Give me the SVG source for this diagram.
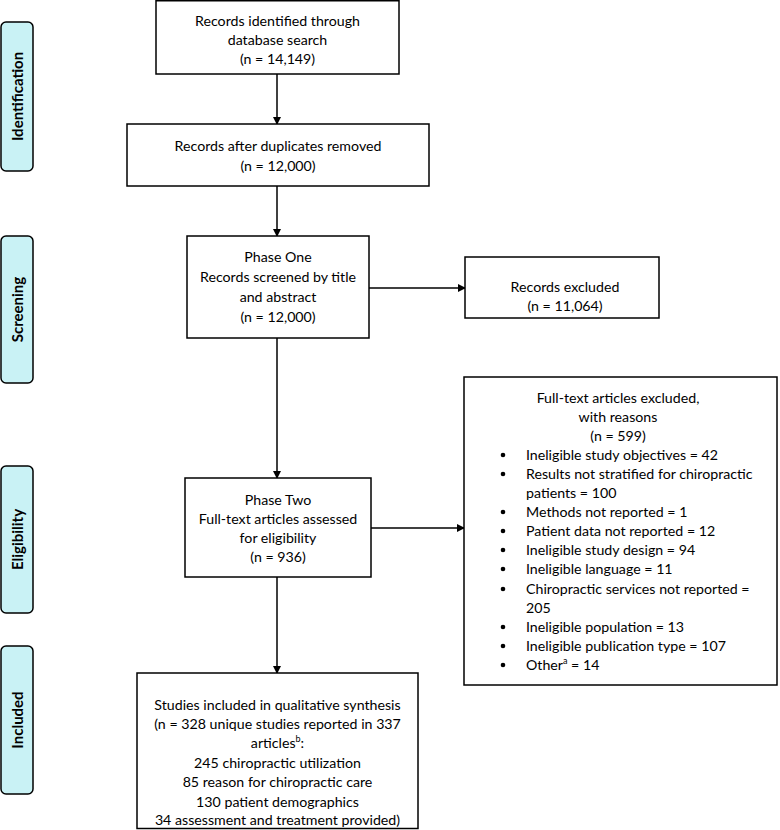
<svg xmlns="http://www.w3.org/2000/svg" width="780" height="830" viewBox="0 0 780 830">
<style>
.box{fill:#fff;stroke:#000;stroke-width:1.5}
.side{fill:#c9f2f5;stroke:#000;stroke-width:1.5}
.t{font-family:Lato,"Liberation Sans",sans-serif;font-size:14.2px;fill:#000;text-anchor:middle}
.l{font-family:Lato,"Liberation Sans",sans-serif;font-size:14.2px;fill:#000}
.s{font-family:Lato,"Liberation Sans",sans-serif;font-size:15px;font-weight:bold;fill:#000;text-anchor:middle}
.c{stroke:#000;stroke-width:1.5;fill:none;marker-end:url(#ah)}
</style>
<defs>
<marker id="ah" markerWidth="8" markerHeight="8" refX="7" refY="4" orient="auto" markerUnits="userSpaceOnUse">
<path d="M0,0 L8,4 L0,8 Z" fill="#000"/>
</marker>
</defs>
<rect width="780" height="830" fill="#fff"/>

<g id="phase-identification">
<rect class="side" x="1" y="22" width="32" height="149" rx="5"/>
<text class="s" transform="translate(22.5,96.5) rotate(-90)">Identification</text>
</g>
<g id="phase-screening">
<rect class="side" x="1" y="236" width="32" height="147" rx="5"/>
<text class="s" transform="translate(22.5,309.5) rotate(-90)">Screening</text>
</g>
<g id="phase-eligibility">
<rect class="side" x="1" y="466" width="32" height="147" rx="5"/>
<text class="s" transform="translate(22.5,539.5) rotate(-90)">Eligibility</text>
</g>
<g id="phase-included">
<rect class="side" x="1" y="646" width="32" height="148" rx="5"/>
<text class="s" transform="translate(22.5,720) rotate(-90)">Included</text>
</g>

<g id="connectors">
<line class="c" x1="277" y1="74" x2="277" y2="124"/>
<line class="c" x1="277" y1="186" x2="277" y2="236"/>
<line class="c" x1="369" y1="288" x2="465" y2="288"/>
<line class="c" x1="277" y1="338" x2="277" y2="478"/>
<line class="c" x1="371" y1="528" x2="464" y2="528"/>
<line class="c" x1="277" y1="577" x2="277" y2="673"/>
</g>

<g id="identified">
<rect class="box" x="156" y="0.75" width="243" height="73.25"/>
<text class="t" x="277.5" y="26">Records identified through</text>
<text class="t" x="277.5" y="45">database search</text>
<text class="t" x="277.5" y="64">(n = 14,149)</text>
</g>

<g id="deduplicated">
<rect class="box" x="127" y="124" width="302" height="62"/>
<text class="t" x="278" y="151">Records after duplicates removed</text>
<text class="t" x="278" y="171">(n = 12,000)</text>
</g>

<g id="phase-one">
<rect class="box" x="187" y="236" width="182" height="102"/>
<text class="t" x="278" y="262">Phase One</text>
<text class="t" x="278" y="282">Records screened by title</text>
<text class="t" x="278" y="302">and abstract</text>
<text class="t" x="278" y="322">(n = 12,000)</text>
</g>

<g id="records-excluded">
<rect class="box" x="465" y="257" width="194" height="61"/>
<text class="t" x="565" y="292">Records excluded</text>
<text class="t" x="565" y="311">(n = 11,064)</text>
</g>

<g id="phase-two">
<rect class="box" x="185" y="478" width="186" height="99"/>
<text class="t" x="278" y="505">Phase Two</text>
<text class="t" x="278" y="524">Full-text articles assessed</text>
<text class="t" x="278" y="543">for eligibility</text>
<text class="t" x="278" y="562">(n = 936)</text>
</g>

<g id="fulltext-excluded">
<rect class="box" x="464" y="377" width="313" height="308"/>
<text class="t" x="618" y="403">Full-text articles excluded,</text>
<text class="t" x="618" y="422">with reasons</text>
<text class="t" x="618" y="441">(n = 599)</text>
<g fill="#000">
<circle cx="503" cy="455" r="2.3"/>
<circle cx="503" cy="474" r="2.3"/>
<circle cx="503" cy="512" r="2.3"/>
<circle cx="503" cy="531" r="2.3"/>
<circle cx="503" cy="550" r="2.3"/>
<circle cx="503" cy="569" r="2.3"/>
<circle cx="503" cy="589" r="2.3"/>
<circle cx="503" cy="627" r="2.3"/>
<circle cx="503" cy="646" r="2.3"/>
<circle cx="503" cy="665" r="2.3"/>
</g>
<text class="l" x="526" y="460">Ineligible study objectives = 42</text>
<text class="l" x="526" y="479">Results not stratified for chiropractic</text>
<text class="l" x="526" y="498">patients = 100</text>
<text class="l" x="526" y="517">Methods not reported = 1</text>
<text class="l" x="526" y="536">Patient data not reported = 12</text>
<text class="l" x="526" y="555">Ineligible study design = 94</text>
<text class="l" x="526" y="574">Ineligible language = 11</text>
<text class="l" x="526" y="594">Chiropractic services not reported =</text>
<text class="l" x="526" y="613">205</text>
<text class="l" x="526" y="632">Ineligible population = 13</text>
<text class="l" x="526" y="651">Ineligible publication type = 107</text>
<text class="l" x="526" y="670">Other<tspan font-size="9" dy="-6">a</tspan><tspan dy="6"> = 14</tspan></text>
</g>

<g id="included">
<rect class="box" x="137" y="673" width="281" height="155.5"/>
<text class="t" x="277.5" y="710">Studies included in qualitative synthesis</text>
<text class="t" x="277.5" y="729">(n = 328 unique studies reported in 337</text>
<text class="t" x="277.5" y="748">articles<tspan font-size="9" dy="-6">b</tspan><tspan dy="6">:</tspan></text>
<text class="t" x="277.5" y="768">245 chiropractic utilization</text>
<text class="t" x="277.5" y="787">85 reason for chiropractic care</text>
<text class="t" x="277.5" y="807">130 patient demographics</text>
<text class="t" x="277.5" y="825">34 assessment and treatment provided)</text>
</g>
</svg>
